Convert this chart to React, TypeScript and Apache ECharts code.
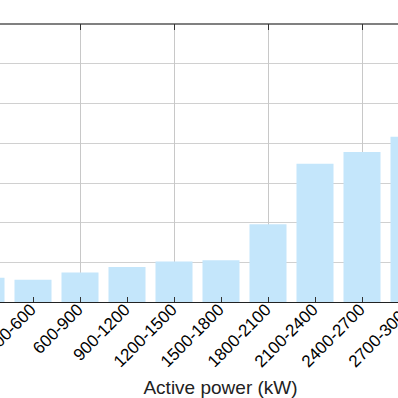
import React, { useEffect, useRef } from "react";
import * as echarts from "echarts";

const categories = ["0-300", "300-600", "600-900", "900-1200", "1200-1500", "1500-1800", "1800-2100", "2100-2400", "2400-2700", "2700-3000"];
const values = [0.61, 0.56, 0.74, 0.88, 1.02, 1.05, 1.96, 3.48, 3.78, 4.16];
const xAxisTitle = "Active power (kW)";

const OFFSET = 60;

export default function App() {
  const ref = useRef<HTMLDivElement>(null);
  useEffect(() => {
    if (!ref.current) return;
    const chart = echarts.init(ref.current, undefined, { renderer: "svg" });
    const font = "Arial, 'Liberation Sans', Helvetica, sans-serif";
    chart.setOption({
      animation: false,
      grid: { left: OFFSET - 14, right: OFFSET + 398 - 409, top: 24, bottom: 96, containLabel: false },
      xAxis: [
        {
          type: "category",
          data: categories,
          position: "bottom",
          boundaryGap: false,
          z: 10,
          axisLine: { show: true, lineStyle: { color: "#222", width: 1 } },
          axisTick: { show: true, inside: true, length: 5, lineStyle: { color: "#333" } },
          axisLabel: { show: true, rotate: 45, margin: 5, fontSize: 17, color: "#000", fontFamily: font, interval: 0 },
          splitLine: { show: false },
        },
        {
          type: "category",
          data: categories,
          position: "top",
          boundaryGap: false,
          z: 0,
          axisLine: { show: true, lineStyle: { color: "#808080", width: 2 } },
          axisTick: { show: true, inside: true, length: 6, lineStyle: { color: "#333" } },
          axisLabel: { show: false },
          splitLine: { show: true, lineStyle: { color: "#c8c8c8", width: 1 } },
        },
      ],
      yAxis: {
        type: "value",
        min: 0,
        max: 7,
        interval: 1,
        axisLine: { show: false },
        axisTick: { show: false },
        axisLabel: { show: false },
        splitLine: { show: true, lineStyle: { color: "#d0d0d0", width: 1 } },
      },
      series: [
        {
          type: "bar",
          data: values,
          barWidth: 37,
          itemStyle: { color: "#c4e6fb" },
        },
      ],
      graphic: [
        {
          type: "text",
          x: OFFSET + 220.5,
          y: 387,
          style: {
            text: xAxisTitle,
            fontSize: 19,
            fontFamily: font,
            fill: "#222",
            textAlign: "center",
            textVerticalAlign: "middle",
          },
        },
      ],
    });
    return () => chart.dispose();
  }, []);
  return (
    <div style={{ position: "fixed", left: 0, top: 0, width: 398, height: 398, overflow: "hidden", background: "#fff" }}>
      <div ref={ref} style={{ position: "absolute", left: -OFFSET, top: 0, width: 398 + 2 * OFFSET, height: 398 }} />
    </div>
  );
}
